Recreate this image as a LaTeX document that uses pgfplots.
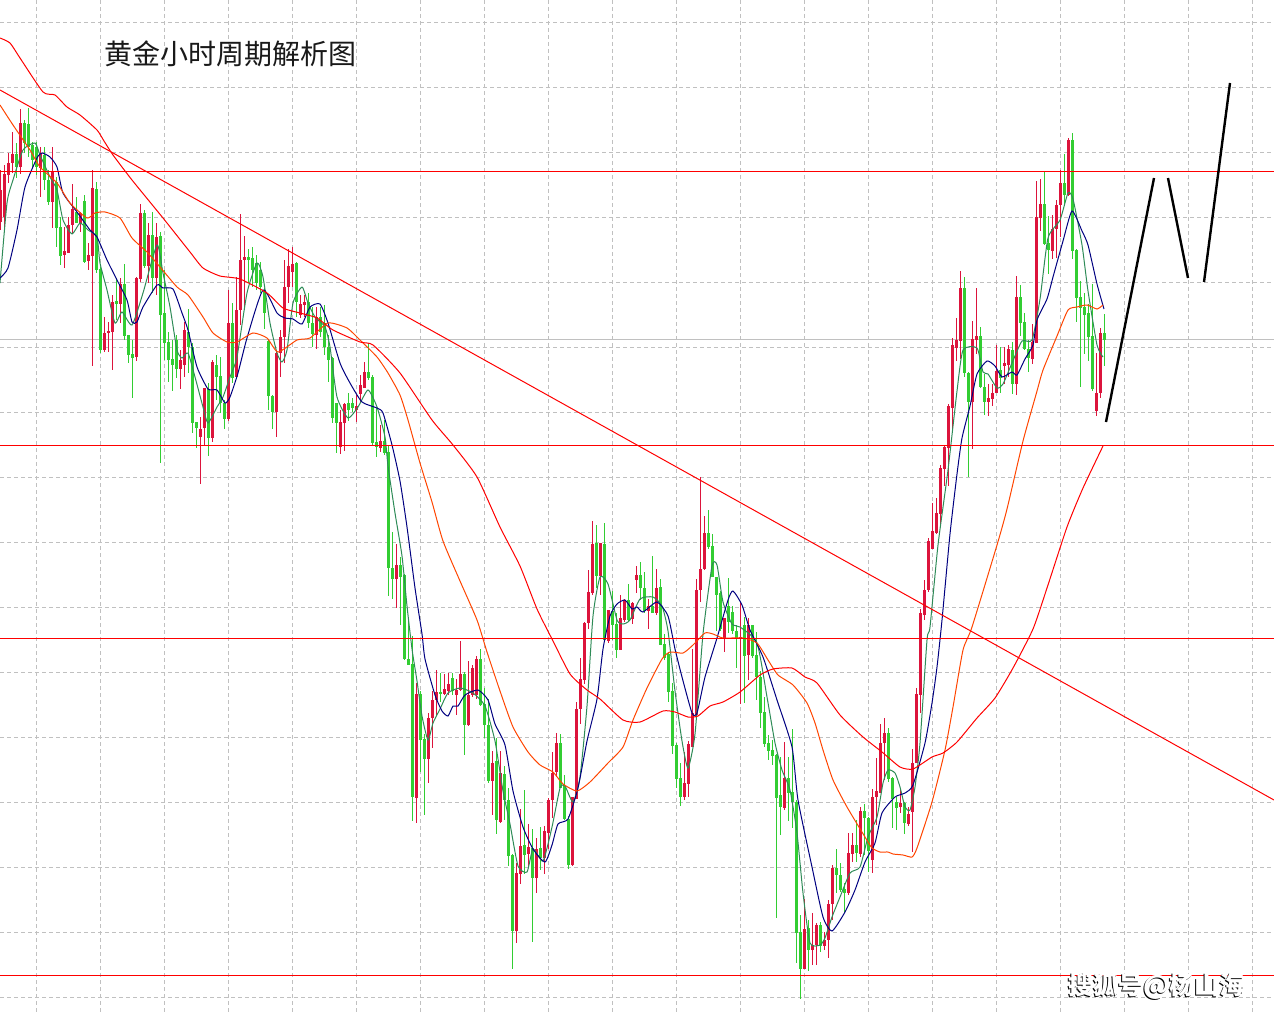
\documentclass[border=0pt]{standalone}
\usepackage{pgfplots}
\usepackage{pgfplotstable}
\usepackage{fontspec}
\pgfplotsset{compat=1.18}
\newfontfamily\cjk{Noto Sans CJK SC}
\definecolor{cred}{HTML}{DC143C}
\definecolor{cgreen}{HTML}{32CD32}
\definecolor{mgrid}{HTML}{C0C0C0}
\definecolor{seag}{HTML}{2E8B57}
\definecolor{nav}{HTML}{000080}
\definecolor{orred}{HTML}{FF4500}
% k wicktop bodytop bodybottom wickbottom (pixel rows of the picture)
\pgfplotstableread{
k wt bt bb wb
0 170 190 222 230
1 165 174 217 229
2 153 163 175 183
3 132 154 163 173
5 109 123 167 174
10 147 153 168 197
13 147 172 202 228
16 227 251 255 268
17 217 225 253 253
18 184 209 225 234
20 212 213 223 232
22 243 255 261 270
23 170 188 256 366
26 317 333 350 352
27 322 331 333 352
28 295 302 332 370
30 278 284 304 323
34 277 278 357 361
35 204 213 279 282
37 223 235 266 283
39 223 237 278 295
45 350 360 369 389
46 322 330 365 377
50 417 429 437 484
51 388 388 428 445
53 360 362 438 442
57 290 323 419 421
59 277 310 377 377
60 214 260 310 325
61 236 257 260 310
69 352 353 412 437
70 330 337 353 377
71 260 287 337 363
72 249 266 287 303
73 247 264 272 287
75 295 304 315 318
76 295 302 305 317
79 307 317 335 349
85 410 422 447 454
86 403 404 423 451
89 395 406 410 422
90 375 385 394 402
91 362 372 388 388
95 425 441 448 452
99 544 565 579 608
104 683 694 798 823
107 713 718 759 783
108 691 700 718 748
109 670 692 700 715
111 674 689 694 695
112 673 684 691 695
114 679 690 695 715
115 641 674 690 691
117 661 695 725 726
118 665 668 695 697
119 656 659 695 699
123 751 763 781 815
125 751 773 822 823
129 863 873 931 943
130 809 846 874 884
132 824 847 854 868
134 838 849 878 893
136 826 831 858 874
137 798 800 833 849
138 752 773 800 818
139 733 743 772 777
143 797 797 865 866
144 702 709 799 799
145 658 679 709 724
146 622 623 680 684
147 570 592 623 629
148 521 544 593 595
150 543 543 576 595
152 610 610 641 643
155 595 618 650 650
156 599 600 620 622
158 602 603 619 624
159 566 575 580 593
162 599 606 611 629
164 569 588 613 615
171 752 783 797 800
172 741 744 784 797
173 649 713 747 747
174 579 590 715 715
175 477 569 590 602
176 516 533 569 570
181 618 618 638 652
185 602 637 639 704
187 618 625 655 680
196 742 778 808 810
201 899 929 969 969
203 913 945 950 965
204 923 925 945 965
206 932 940 946 950
207 900 904 940 958
208 865 868 904 920
212 833 853 893 895
213 833 845 854 862
215 807 811 854 857
218 789 797 860 873
219 758 791 797 825
220 724 743 793 793
221 718 733 743 780
225 788 803 807 813
227 807 814 824 826
228 749 763 812 852
229 688 694 763 763
230 609 613 695 713
231 580 590 615 620
232 538 541 590 592
233 503 531 549 549
234 498 513 533 534
235 465 468 514 524
236 445 447 469 486
237 404 406 448 486
238 338 345 408 433
239 318 340 348 361
240 271 288 341 359
243 321 339 402 449
244 288 336 340 354
247 384 398 402 416
248 384 393 399 406
249 345 371 393 393
251 347 363 366 384
252 345 349 365 377
254 276 297 384 395
258 324 342 359 364
259 181 217 343 343
260 179 204 218 231
263 215 229 251 259
264 200 205 229 258
265 170 183 205 237
267 138 140 195 196
274 353 393 411 416
275 328 333 393 398
}\redc
\pgfplotstableread{
k wt bt bb wb
4 143 154 167 178
6 120 123 143 153
7 108 124 147 157
8 142 145 160 167
9 142 147 167 175
11 147 155 180 190
12 170 180 202 205
14 177 182 228 247
15 217 227 256 265
19 197 212 223 223
21 195 201 262 263
24 182 189 270 273
25 267 269 350 353
29 278 301 304 320
31 264 284 336 340
32 335 335 355 363
33 340 354 358 398
36 210 213 266 268
38 212 235 278 293
40 232 236 315 463
41 270 313 343 360
42 332 342 360 382
43 340 359 365 391
44 335 340 369 378
47 309 332 347 373
48 343 347 423 433
49 422 422 428 448
52 383 389 438 456
54 355 365 377 400
55 357 376 403 413
56 400 403 419 429
58 303 323 378 383
62 249 257 260 283
63 247 258 270 287
64 255 263 283 290
65 262 270 287 293
66 288 290 313 329
67 340 341 396 410
68 395 396 412 429
74 262 263 302 317
77 293 302 323 328
78 307 323 334 347
80 307 317 332 337
81 305 323 347 355
82 335 347 360 382
83 357 358 418 423
84 403 403 423 453
87 393 403 410 421
88 398 403 408 412
92 343 372 378 380
93 375 377 443 445
94 408 442 447 457
96 420 441 453 455
97 445 452 568 596
98 532 568 579 599
100 557 565 577 625
101 574 575 659 660
102 620 659 665 665
103 636 664 797 821
105 691 694 740 772
106 734 739 759 815
110 673 692 694 702
113 673 678 691 695
116 672 674 725 755
120 649 659 705 706
121 688 704 725 738
122 699 725 781 783
124 738 761 820 834
126 766 774 800 820
127 788 800 856 866
128 854 855 931 969
131 790 845 855 874
133 829 848 878 942
135 827 848 858 870
140 734 743 788 788
141 775 786 819 820
142 816 819 865 869
149 525 543 576 588
151 523 544 640 641
153 591 611 625 640
154 613 624 650 658
157 584 600 620 622
160 562 575 588 600
161 572 588 611 613
163 556 606 613 613
165 579 587 645 645
166 634 644 658 660
167 652 654 692 702
168 683 691 746 754
169 743 745 779 788
170 763 778 797 806
177 510 533 547 549
178 534 546 577 577
179 577 577 595 631
180 591 593 629 631
182 578 606 622 633
183 606 612 631 634
184 625 631 638 668
186 617 625 656 703
188 625 625 656 658
189 632 655 677 700
190 671 677 713 728
191 697 712 744 747
192 735 743 751 760
193 740 750 756 765
194 754 755 798 918
195 757 795 807 835
197 757 778 793 821
198 729 792 802 828
199 800 802 933 963
200 915 932 969 999
202 920 928 950 971
205 922 925 946 952
209 849 868 875 893
210 863 875 890 892
211 883 889 893 913
214 820 845 853 862
216 804 811 818 855
217 817 818 851 872
222 728 733 779 782
223 777 778 799 828
224 797 802 808 830
226 802 803 823 834
241 277 288 373 377
242 372 373 402 477
245 327 336 387 388
246 374 387 402 415
250 347 370 378 393
253 342 350 384 394
255 285 297 323 336
256 313 322 349 350
257 340 349 358 372
261 171 204 244 245
262 216 243 250 274
266 154 183 195 206
268 133 140 251 259
269 249 250 298 322
270 281 297 308 387
271 293 307 315 354
272 304 313 337 361
273 284 336 389 391
276 314 333 340 366
}\greenc
\begin{document}
\begin{tikzpicture}
\useasboundingbox (0,0) rectangle (1274pt,1014pt);
\begin{axis}[
  at={(0,0)}, anchor=south west,
  scale only axis, width=1274pt, height=1014pt,
  xmin=0, xmax=1274, ymin=0, ymax=1014, y dir=reverse,
  axis line style={draw=none}, tick style={draw=none},
  xtick={36.5,100.5,164.5,228.5,292.5,356.5,420.5,484.5,548.5,612.5,676.5,740.5,804.5,868.5,932.5,996.5,1060.5,1124.5,1188.5,1252.5},
  ytick={22.5,87.5,152.5,217.5,282.5,347.5,412.5,477.5,542.5,607.5,672.5,737.5,802.5,867.5,932.5,997.5},
  xticklabels={}, yticklabels={},
  grid=major, major grid style={mgrid, line width=1pt, dash pattern=on 4pt off 3pt},
  candle/.style={draw=none, mark=none, no markers, forget plot},
]
\addplot[mgrid, line width=1pt, forget plot] coordinates {(0,339.5) (1274,339.5)};
% wicks and bodies
\addplot[candle, error bars/.cd, y dir=both, y explicit, error mark=none,
  error bar style={draw=cgreen, line width=1pt}]
  table[x expr=0.5+4*\thisrow{k}, y expr=(\thisrow{wt}+\thisrow{wb})/2, y error expr=(\thisrow{wb}-\thisrow{wt})/2]{\greenc};
\addplot[candle, error bars/.cd, y dir=both, y explicit, error mark=none,
  error bar style={draw=cgreen, line width=3pt}]
  table[x expr=0.5+4*\thisrow{k}, y expr=(\thisrow{bt}+\thisrow{bb})/2, y error expr=(\thisrow{bb}-\thisrow{bt})/2]{\greenc};
\addplot[candle, error bars/.cd, y dir=both, y explicit, error mark=none,
  error bar style={draw=cred, line width=1pt}]
  table[x expr=0.5+4*\thisrow{k}, y expr=(\thisrow{wt}+\thisrow{wb})/2, y error expr=(\thisrow{wb}-\thisrow{wt})/2]{\redc};
\addplot[candle, error bars/.cd, y dir=both, y explicit, error mark=none,
  error bar style={draw=cred, line width=3pt}]
  table[x expr=0.5+4*\thisrow{k}, y expr=(\thisrow{bt}+\thisrow{bb})/2, y error expr=(\thisrow{bb}-\thisrow{bt})/2]{\redc};
% seagreen average
\addplot[seag, line width=1pt, smooth, tension=0.35, forget plot] coordinates {
(0,283)(7,203)(13,180)(23,150)(35,143)(40,155)(50,177)(57,190)(63,220)(72,234)(80,223)(88,230)(97,237)(100,263)(107,290)(115,323)(122,312)(132,325)(143,293)(157,245)(163,273)(170,307)(177,350)(182,358)(188,353)(195,377)(203,407)(208,423)(217,407)(223,397)(230,377)(237,357)(247,293)(257,263)(263,277)(270,323)(277,353)(282,362)(287,350)(293,303)(302,287)(308,303)(315,317)(325,327)(330,347)(337,397)(348,418)(358,407)(368,390)(377,407)(385,437)(388,466)(395,513)(402,556)(407,606)(412,649)(417,681)(422,716)(428,740)(433,723)(440,709)(448,693)(460,688)(473,693)(485,706)(495,741)(503,791)(510,824)(518,866)(527,872)(533,849)(543,861)(552,827)(560,788)(565,786)(573,802)(580,777)(587,706)(593,616)(600,577)(608,584)(617,620)(623,624)(630,620)(640,599)(653,597)(662,606)(668,631)(675,691)(682,741)(688,768)(695,734)(703,634)(712,566)(717,565)(723,602)(732,624)(740,627)(757,643)(767,697)(775,743)(782,770)(790,790)(797,833)(803,893)(810,943)(820,945)(825,938)(832,917)(840,897)(850,873)(860,867)(868,837)(877,817)(883,783)(888,770)(895,773)(900,787)(905,807)(910,810)(915,787)(920,743)(927,640)(930,627)(938,545)(948,470)(957,391)(963,350)(977,348)(983,372)(988,374)(997,388)(1003,384)(1012,363)(1022,341)(1032,340)(1040,299)(1048,238)(1060,220)(1068,193)(1073,199)(1082,245)(1088,291)(1097,345)(1103,357)};
% navy average
\addplot[nav, line width=1pt, smooth, tension=0.35, forget plot] coordinates {
(0,278)(8,268)(17,230)(25,187)(37,158)(42,153)(50,157)(57,167)(63,193)(77,212)(90,230)(97,237)(107,260)(117,280)(127,300)(132,322)(137,322)(143,307)(157,285)(163,288)(173,289)(182,313)(188,330)(197,367)(208,389)(217,390)(225,403)(230,397)(238,373)(247,338)(263,290)(277,313)(285,318)(293,319)(302,324)(310,307)(320,304)(328,323)(340,363)(350,383)(362,402)(377,408)(383,413)(392,445)(400,481)(407,527)(415,588)(422,634)(425,659)(435,695)(442,711)(448,716)(453,706)(458,706)(465,695)(478,690)(488,700)(495,724)(505,745)(513,791)(523,827)(533,849)(545,862)(552,845)(558,824)(568,819)(578,788)(587,741)(597,699)(603,649)(610,616)(617,604)(625,600)(632,609)(637,607)(643,612)(657,602)(668,616)(675,649)(682,677)(692,713)(697,713)(705,677)(717,638)(728,600)(733,591)(742,605)(750,630)(763,657)(777,700)(792,747)(798,800)(812,867)(823,917)(832,931)(845,912)(855,890)(865,862)(875,843)(882,813)(895,797)(905,793)(913,785)(925,743)(932,703)(937,667)(942,620)(950,534)(957,474)(962,438)(970,406)(977,374)(987,361)(995,366)(1002,377)(1012,372)(1017,375)(1025,359)(1033,345)(1037,320)(1047,299)(1053,277)(1063,241)(1072,211)(1082,231)(1088,245)(1097,284)(1104,309)};
% orange average
\addplot[orred, line width=1pt, smooth, tension=0.35, forget plot] coordinates {
(0,105)(13,125)(30,150)(40,167)(57,183)(70,203)(87,218)(95,213)(105,212)(120,218)(132,238)(147,252)(160,267)(177,287)(188,295)(203,317)(213,333)(227,342)(237,342)(253,333)(267,338)(278,352)(297,340)(310,338)(328,323)(347,328)(360,340)(377,357)(388,373)(400,395)(408,420)(420,463)(432,502)(443,541)(460,581)(477,620)(487,652)(500,691)(513,727)(528,752)(540,765)(553,772)(563,784)(577,791)(590,782)(608,763)(623,747)(633,720)(647,688)(662,659)(670,652)(683,653)(693,645)(705,633)(713,634)(723,638)(743,638)(757,643)(768,660)(778,675)(793,685)(807,703)(815,723)(823,750)(833,780)(847,807)(865,837)(872,848)(880,852)(888,852)(893,854)(903,855)(912,857)(917,848)(932,802)(945,750)(953,707)(963,650)(972,627)(997,545)(1007,509)(1023,441)(1037,391)(1043,370)(1057,336)(1068,310)(1077,307)(1087,305)(1097,309)(1103,305)};
% red average
\addplot[red, line width=1pt, smooth, tension=0.35, forget plot] coordinates {
(0,38)(10,43)(20,58)(43,92)(55,95)(67,107)(80,115)(97,130)(104,141)(113,155)(132,180)(163,218)(190,252)(203,268)(220,276)(240,279)(267,293)(283,308)(300,313)(317,318)(333,330)(360,342)(373,345)(400,373)(432,420)(453,445)(477,477)(500,527)(520,566)(537,609)(553,641)(570,674)(587,690)(600,699)(623,720)(640,722)(663,711)(675,712)(688,717)(698,716)(710,706)(723,702)(740,692)(760,675)(773,669)(792,668)(805,677)(817,683)(840,715)(863,737)(882,752)(900,767)(913,769)(932,757)(943,753)(957,742)(977,718)(995,698)(1013,668)(1033,629)(1047,588)(1067,527)(1083,488)(1103,446)};
% horizontal levels and trend line
\addplot[red, line width=1pt, forget plot] coordinates {(0,171.5) (1274,171.5)};
\addplot[red, line width=1pt, forget plot] coordinates {(0,445.5) (1274,445.5)};
\addplot[red, line width=1pt, forget plot] coordinates {(0,638.5) (1274,638.5)};
\addplot[red, line width=1pt, forget plot] coordinates {(0,975.5) (1274,975.5)};
\addplot[red, line width=1pt, forget plot] coordinates {(0,90) (1274,800)};
% hand-drawn projection
\addplot[black, line width=2.4pt, forget plot] coordinates {(1106,422) (1154,178)};
\addplot[black, line width=2.4pt, forget plot] coordinates {(1168,178) (1188,278)};
\addplot[black, line width=2.4pt, forget plot] coordinates {(1204,282) (1230,83)};
\node[anchor=center, text=black!90, font=\cjk\fontsize{28}{28}\selectfont, inner sep=0pt] at (axis cs:230.5,53.5) {黄金小时周期解析图};
\node[anchor=center, text=black, font=\cjk\bfseries\fontsize{25}{25}\selectfont, inner sep=0pt] at (axis cs:1155,987.5) {搜狐号@杨山海};
\node[anchor=center, text=white, font=\cjk\bfseries\fontsize{25}{25}\selectfont, inner sep=0pt] at (axis cs:1156,986) {搜狐号@杨山海};
\end{axis}
\end{tikzpicture}
\end{document}
